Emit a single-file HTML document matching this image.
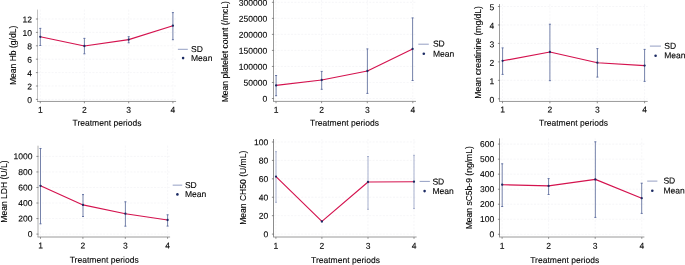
<!DOCTYPE html>
<html lang="en">
<head>
<meta charset="utf-8">
<title>Treatment period charts</title>
<style>
html,body{margin:0;padding:0;background:#fff;}
svg{display:block;}
text{font-family:"Liberation Sans", Arial, Helvetica, sans-serif;font-size:8.55px;fill:#000;stroke:#000;stroke-width:0.1px;}
.ay{stroke-width:1;fill:none;}
.axx{stroke:#9a9a9a;stroke-width:1;fill:none;}
.tk{stroke:#747474;stroke-width:0.8;fill:none;}
.gr{stroke:#f0f0f4;stroke-width:0.6;stroke-dasharray:2 1.4;fill:none;}
.sd{stroke:#7683ab;stroke-width:1;fill:none;}
.cap{stroke:#56669c;stroke-width:0.9;fill:none;}
.ll{stroke:#7886b4;stroke-width:0.8;fill:none;}
.mn{fill:#1b2a63;}
.ln{stroke:#d4124e;stroke-width:1.15;fill:none;stroke-linejoin:round;}
.lt .sd{stroke:#a9b2cf;}.lt .cap{stroke:#a0aacb;}
.r{text-anchor:end;}.m{text-anchor:middle;}
</style>
</head>
<body>
<svg width="685" height="265" viewBox="0 0 685 265">
<rect width="685" height="265" fill="#fff"/>
<g id="chart1">
<line class="gr" x1="38" y1="99.4" x2="176.1" y2="99.4"/>
<line class="gr" x1="38" y1="86" x2="176.1" y2="86"/>
<line class="gr" x1="38" y1="72.6" x2="176.1" y2="72.6"/>
<line class="gr" x1="38" y1="59.2" x2="176.1" y2="59.2"/>
<line class="gr" x1="38" y1="45.8" x2="176.1" y2="45.8"/>
<line class="gr" x1="38" y1="32.4" x2="176.1" y2="32.4"/>
<line class="gr" x1="38" y1="19" x2="176.1" y2="19"/>
<line class="gr" x1="40.3" y1="9.6" x2="40.3" y2="100.95"/>
<line class="gr" x1="84.4" y1="9.6" x2="84.4" y2="100.95"/>
<line class="gr" x1="128.7" y1="9.6" x2="128.7" y2="100.95"/>
<line class="gr" x1="172.9" y1="9.6" x2="172.9" y2="100.95"/>
<line class="ay" stroke="#c2c2c2" x1="37.5" y1="9.6" x2="37.5" y2="101.45"/><line class="axx" x1="37" y1="101.45" x2="176.1" y2="101.45"/>
<line class="tk" x1="35.9" y1="99.4" x2="37.9" y2="99.4"/><text class="r" transform="translate(32 102.95) rotate(0.05)">0</text>
<line class="tk" x1="35.9" y1="86" x2="37.9" y2="86"/><text class="r" transform="translate(32 89.55) rotate(0.05)">2</text>
<line class="tk" x1="35.9" y1="72.6" x2="37.9" y2="72.6"/><text class="r" transform="translate(32 76.15) rotate(0.05)">4</text>
<line class="tk" x1="35.9" y1="59.2" x2="37.9" y2="59.2"/><text class="r" transform="translate(32 62.75) rotate(0.05)">6</text>
<line class="tk" x1="35.9" y1="45.8" x2="37.9" y2="45.8"/><text class="r" transform="translate(32 49.35) rotate(0.05)">8</text>
<line class="tk" x1="35.9" y1="32.4" x2="37.9" y2="32.4"/><text class="r" transform="translate(32 35.95) rotate(0.05)">10</text>
<line class="tk" x1="35.9" y1="19" x2="37.9" y2="19"/><text class="r" transform="translate(32 22.55) rotate(0.05)">12</text>
<line class="tk" x1="40.3" y1="101.45" x2="40.3" y2="103.25"/><text class="m" transform="translate(40.3 112.7) rotate(0.05)">1</text>
<line class="tk" x1="84.4" y1="101.45" x2="84.4" y2="103.25"/><text class="m" transform="translate(84.4 112.7) rotate(0.05)">2</text>
<line class="tk" x1="128.7" y1="101.45" x2="128.7" y2="103.25"/><text class="m" transform="translate(128.7 112.7) rotate(0.05)">3</text>
<line class="tk" x1="172.9" y1="101.45" x2="172.9" y2="103.25"/><text class="m" transform="translate(172.9 112.7) rotate(0.05)">4</text>
<text class="m" transform="translate(15.9 55.4) rotate(-90)">Mean Hb (g/dL)</text>
<text class="m" transform="translate(107 125.85) rotate(0.05)">Treatment periods</text>
<line class="sd" x1="40.3" y1="28.4" x2="40.3" y2="45.5"/><path class="cap" d="M39.3 28.4H41.3M39.3 45.5H41.3"/>
<line class="sd" x1="84.4" y1="38.4" x2="84.4" y2="53.8"/><path class="cap" d="M83.4 38.4H85.4M83.4 53.8H85.4"/>
<line class="sd" x1="128.7" y1="36.7" x2="128.7" y2="42.8"/><path class="cap" d="M127.7 36.7H129.7M127.7 42.8H129.7"/>
<line class="sd" x1="172.9" y1="12.6" x2="172.9" y2="39.7"/><path class="cap" d="M171.9 12.6H173.9M171.9 39.7H173.9"/>
<path class="ln" d="M40.3 36.8L84.4 46L128.7 39.6L172.9 25.7"/>
<circle class="mn" cx="40.3" cy="36.8" r="1.15"/><circle class="mn" cx="84.4" cy="46" r="1.15"/><circle class="mn" cx="128.7" cy="39.6" r="1.15"/><circle class="mn" cx="172.9" cy="25.7" r="1.15"/>
<line class="ll" x1="177.9" y1="49.3" x2="187.8" y2="49.3"/><text transform="translate(191 51.9) rotate(0.05)">SD</text><circle class="mn" cx="183.1" cy="58.1" r="1.3"/><text transform="translate(191 60.9) rotate(0.05)">Mean</text>
</g>
<g id="chart2">
<line class="gr" x1="274" y1="98.5" x2="416" y2="98.5"/>
<line class="gr" x1="274" y1="82.47" x2="416" y2="82.47"/>
<line class="gr" x1="274" y1="66.44" x2="416" y2="66.44"/>
<line class="gr" x1="274" y1="50.41" x2="416" y2="50.41"/>
<line class="gr" x1="274" y1="34.38" x2="416" y2="34.38"/>
<line class="gr" x1="274" y1="18.35" x2="416" y2="18.35"/>
<line class="gr" x1="274" y1="2.32" x2="416" y2="2.32"/>
<line class="gr" x1="276" y1="0" x2="276" y2="100.9"/>
<line class="gr" x1="321.6" y1="0" x2="321.6" y2="100.9"/>
<line class="gr" x1="367.3" y1="0" x2="367.3" y2="100.9"/>
<line class="gr" x1="412.8" y1="0" x2="412.8" y2="100.9"/>
<line class="ay" stroke="#9a9a9a" x1="273.5" y1="-1" x2="273.5" y2="101.4"/><line class="axx" x1="273" y1="101.4" x2="416" y2="101.4"/>
<line class="tk" x1="271.9" y1="98.5" x2="273.9" y2="98.5"/><text class="r" transform="translate(267.3 101.85) rotate(0.05)">0</text>
<line class="tk" x1="271.9" y1="82.47" x2="273.9" y2="82.47"/><text class="r" transform="translate(267.3 85.82) rotate(0.05)">50000</text>
<line class="tk" x1="271.9" y1="66.44" x2="273.9" y2="66.44"/><text class="r" transform="translate(267.3 69.79) rotate(0.05)">100000</text>
<line class="tk" x1="271.9" y1="50.41" x2="273.9" y2="50.41"/><text class="r" transform="translate(267.3 53.76) rotate(0.05)">150000</text>
<line class="tk" x1="271.9" y1="34.38" x2="273.9" y2="34.38"/><text class="r" transform="translate(267.3 37.73) rotate(0.05)">200000</text>
<line class="tk" x1="271.9" y1="18.35" x2="273.9" y2="18.35"/><text class="r" transform="translate(267.3 21.7) rotate(0.05)">250000</text>
<line class="tk" x1="271.9" y1="2.32" x2="273.9" y2="2.32"/><text class="r" transform="translate(267.3 5.67) rotate(0.05)">300000</text>
<line class="tk" x1="276" y1="101.4" x2="276" y2="103.2"/><text class="m" transform="translate(276 112.7) rotate(0.05)">1</text>
<line class="tk" x1="321.6" y1="101.4" x2="321.6" y2="103.2"/><text class="m" transform="translate(321.6 112.7) rotate(0.05)">2</text>
<line class="tk" x1="367.3" y1="101.4" x2="367.3" y2="103.2"/><text class="m" transform="translate(367.3 112.7) rotate(0.05)">3</text>
<line class="tk" x1="412.8" y1="101.4" x2="412.8" y2="103.2"/><text class="m" transform="translate(412.8 112.7) rotate(0.05)">4</text>
<text class="m" transform="translate(228 51.7) rotate(-90)">Mean platelet count (/mcL)</text>
<text class="m" transform="translate(344.5 125.8) rotate(0.05)">Treatment periods</text>
<line class="sd" x1="276.1" y1="75.5" x2="276.1" y2="95.7"/><path class="cap" d="M275.1 75.5H277.1M275.1 95.7H277.1"/>
<line class="sd" x1="321.7" y1="71.4" x2="321.7" y2="89.3"/><path class="cap" d="M320.7 71.4H322.7M320.7 89.3H322.7"/>
<line class="sd" x1="367.4" y1="48.9" x2="367.4" y2="93.4"/><path class="cap" d="M366.4 48.9H368.4M366.4 93.4H368.4"/>
<line class="sd" x1="412.6" y1="17.9" x2="412.6" y2="80.5"/><path class="cap" d="M411.6 17.9H413.6M411.6 80.5H413.6"/>
<path class="ln" d="M276.1 85.4L321.7 80L367.4 71L412.6 48.9"/>
<circle class="mn" cx="276.1" cy="85.4" r="1.15"/><circle class="mn" cx="321.7" cy="80" r="1.15"/><circle class="mn" cx="367.4" cy="71" r="1.15"/><circle class="mn" cx="412.6" cy="48.9" r="1.15"/>
<line class="ll" x1="418.3" y1="44.2" x2="428.8" y2="44.2"/><text transform="translate(432.9 46.6) rotate(0.05)">SD</text><circle class="mn" cx="423.8" cy="53.7" r="1.3"/><text transform="translate(432.9 56.8) rotate(0.05)">Mean</text>
</g>
<g id="chart3">
<line class="gr" x1="500" y1="98.8" x2="647.7" y2="98.8"/>
<line class="gr" x1="500" y1="80.34" x2="647.7" y2="80.34"/>
<line class="gr" x1="500" y1="61.88" x2="647.7" y2="61.88"/>
<line class="gr" x1="500" y1="43.42" x2="647.7" y2="43.42"/>
<line class="gr" x1="500" y1="24.96" x2="647.7" y2="24.96"/>
<line class="gr" x1="500" y1="6.5" x2="647.7" y2="6.5"/>
<line class="gr" x1="502.5" y1="4" x2="502.5" y2="100.95"/>
<line class="gr" x1="549.9" y1="4" x2="549.9" y2="100.95"/>
<line class="gr" x1="597.3" y1="4" x2="597.3" y2="100.95"/>
<line class="gr" x1="644.6" y1="4" x2="644.6" y2="100.95"/>
<line class="ay" stroke="#9a9a9a" x1="499.5" y1="4" x2="499.5" y2="101.45"/><line class="axx" x1="499" y1="101.45" x2="647.7" y2="101.45"/>
<line class="tk" x1="497.9" y1="98.8" x2="499.9" y2="98.8"/><text class="r" transform="translate(494.3 102.65) rotate(0.05)">0</text>
<line class="tk" x1="497.9" y1="80.34" x2="499.9" y2="80.34"/><text class="r" transform="translate(494.3 84.19) rotate(0.05)">1</text>
<line class="tk" x1="497.9" y1="61.88" x2="499.9" y2="61.88"/><text class="r" transform="translate(494.3 65.73) rotate(0.05)">2</text>
<line class="tk" x1="497.9" y1="43.42" x2="499.9" y2="43.42"/><text class="r" transform="translate(494.3 47.27) rotate(0.05)">3</text>
<line class="tk" x1="497.9" y1="24.96" x2="499.9" y2="24.96"/><text class="r" transform="translate(494.3 28.81) rotate(0.05)">4</text>
<line class="tk" x1="497.9" y1="6.5" x2="499.9" y2="6.5"/><text class="r" transform="translate(494.3 10.35) rotate(0.05)">5</text>
<line class="tk" x1="502.5" y1="101.45" x2="502.5" y2="103.25"/><text class="m" transform="translate(502.5 112.6) rotate(0.05)">1</text>
<line class="tk" x1="549.9" y1="101.45" x2="549.9" y2="103.25"/><text class="m" transform="translate(549.9 112.6) rotate(0.05)">2</text>
<line class="tk" x1="597.3" y1="101.45" x2="597.3" y2="103.25"/><text class="m" transform="translate(597.3 112.6) rotate(0.05)">3</text>
<line class="tk" x1="644.6" y1="101.45" x2="644.6" y2="103.25"/><text class="m" transform="translate(644.6 112.6) rotate(0.05)">4</text>
<text class="m" transform="translate(481 52.4) rotate(-90)">Mean creatinine (mg/dL)</text>
<text class="m" transform="translate(573.5 125.8) rotate(0.05)">Treatment periods</text>
<line class="sd" x1="502.6" y1="47.9" x2="502.6" y2="74.4"/><path class="cap" d="M501.6 47.9H503.6M501.6 74.4H503.6"/>
<line class="sd" x1="549.9" y1="24.2" x2="549.9" y2="80.7"/><path class="cap" d="M548.9 24.2H550.9M548.9 80.7H550.9"/>
<line class="sd" x1="597.4" y1="48.6" x2="597.4" y2="77.1"/><path class="cap" d="M596.4 48.6H598.4M596.4 77.1H598.4"/>
<line class="sd" x1="644.6" y1="49.4" x2="644.6" y2="81.4"/><path class="cap" d="M643.6 49.4H645.6M643.6 81.4H645.6"/>
<path class="ln" d="M502.6 60.8L549.9 52L597.4 62.7L644.6 65.6"/>
<circle class="mn" cx="502.6" cy="60.8" r="1.15"/><circle class="mn" cx="549.9" cy="52" r="1.15"/><circle class="mn" cx="597.4" cy="62.7" r="1.15"/><circle class="mn" cx="644.6" cy="65.6" r="1.15"/>
<line class="ll" x1="649.9" y1="46.1" x2="660.9" y2="46.1"/><text transform="translate(664.2 48.8) rotate(0.05)">SD</text><circle class="mn" cx="655.6" cy="55.8" r="1.3"/><text transform="translate(664.2 58.3) rotate(0.05)">Mean</text>
</g>
<g id="chart4">
<line class="gr" x1="38.5" y1="234.1" x2="170.1" y2="234.1"/>
<line class="gr" x1="38.5" y1="218.56" x2="170.1" y2="218.56"/>
<line class="gr" x1="38.5" y1="203.02" x2="170.1" y2="203.02"/>
<line class="gr" x1="38.5" y1="187.48" x2="170.1" y2="187.48"/>
<line class="gr" x1="38.5" y1="171.94" x2="170.1" y2="171.94"/>
<line class="gr" x1="38.5" y1="156.4" x2="170.1" y2="156.4"/>
<line class="gr" x1="40.5" y1="145.7" x2="40.5" y2="236.5"/>
<line class="gr" x1="82.9" y1="145.7" x2="82.9" y2="236.5"/>
<line class="gr" x1="125.3" y1="145.7" x2="125.3" y2="236.5"/>
<line class="gr" x1="167.6" y1="145.7" x2="167.6" y2="236.5"/>
<line class="ay" stroke="#b0b0b0" x1="38" y1="145.7" x2="38" y2="237"/><line class="axx" x1="37.5" y1="237" x2="170.1" y2="237"/>
<line class="tk" x1="36.4" y1="234.1" x2="38.4" y2="234.1"/><text class="r" transform="translate(32.5 237.05) rotate(0.05)">0</text>
<line class="tk" x1="36.4" y1="218.56" x2="38.4" y2="218.56"/><text class="r" transform="translate(32.5 221.51) rotate(0.05)">200</text>
<line class="tk" x1="36.4" y1="203.02" x2="38.4" y2="203.02"/><text class="r" transform="translate(32.5 205.97) rotate(0.05)">400</text>
<line class="tk" x1="36.4" y1="187.48" x2="38.4" y2="187.48"/><text class="r" transform="translate(32.5 190.43) rotate(0.05)">600</text>
<line class="tk" x1="36.4" y1="171.94" x2="38.4" y2="171.94"/><text class="r" transform="translate(32.5 174.89) rotate(0.05)">800</text>
<line class="tk" x1="36.4" y1="156.4" x2="38.4" y2="156.4"/><text class="r" transform="translate(32.5 159.35) rotate(0.05)">1000</text>
<line class="tk" x1="40.5" y1="237" x2="40.5" y2="238.8"/><text class="m" transform="translate(40.5 248.6) rotate(0.05)">1</text>
<line class="tk" x1="82.9" y1="237" x2="82.9" y2="238.8"/><text class="m" transform="translate(82.9 248.6) rotate(0.05)">2</text>
<line class="tk" x1="125.3" y1="237" x2="125.3" y2="238.8"/><text class="m" transform="translate(125.3 248.6) rotate(0.05)">3</text>
<line class="tk" x1="167.6" y1="237" x2="167.6" y2="238.8"/><text class="m" transform="translate(167.6 248.6) rotate(0.05)">4</text>
<text class="m" transform="translate(7.4 191.6) rotate(-90)">Mean LDH (U/L)</text>
<text class="m" transform="translate(104.2 262.8) rotate(0.05)">Treatment periods</text>
<line class="sd" x1="40.5" y1="148.5" x2="40.5" y2="223.8"/><path class="cap" d="M39.5 148.5H41.5M39.5 223.8H41.5"/>
<line class="sd" x1="83" y1="194.6" x2="83" y2="216.5"/><path class="cap" d="M82 194.6H84M82 216.5H84"/>
<line class="sd" x1="125.4" y1="201.8" x2="125.4" y2="226.2"/><path class="cap" d="M124.4 201.8H126.4M124.4 226.2H126.4"/>
<line class="sd" x1="167.6" y1="214.8" x2="167.6" y2="226.1"/><path class="cap" d="M166.6 214.8H168.6M166.6 226.1H168.6"/>
<path class="ln" d="M40.5 185.8L83 204.9L125.4 213.7L167.6 220"/>
<circle class="mn" cx="40.5" cy="185.8" r="1.15"/><circle class="mn" cx="83" cy="204.9" r="1.15"/><circle class="mn" cx="125.4" cy="213.7" r="1.15"/><circle class="mn" cx="167.6" cy="220" r="1.15"/>
<line class="ll" x1="172.7" y1="185.15" x2="182.2" y2="185.15"/><text transform="translate(184.9 187.9) rotate(0.05)">SD</text><circle class="mn" cx="177.4" cy="194.4" r="1.3"/><text transform="translate(184.9 196.9) rotate(0.05)">Mean</text>
</g>
<g id="chart5" class="lt">
<line class="gr" x1="274" y1="234.1" x2="416.6" y2="234.1"/>
<line class="gr" x1="274" y1="215.68" x2="416.6" y2="215.68"/>
<line class="gr" x1="274" y1="197.26" x2="416.6" y2="197.26"/>
<line class="gr" x1="274" y1="178.84" x2="416.6" y2="178.84"/>
<line class="gr" x1="274" y1="160.42" x2="416.6" y2="160.42"/>
<line class="gr" x1="274" y1="142" x2="416.6" y2="142"/>
<line class="gr" x1="275.9" y1="139" x2="275.9" y2="236.5"/>
<line class="gr" x1="321.9" y1="139" x2="321.9" y2="236.5"/>
<line class="gr" x1="368" y1="139" x2="368" y2="236.5"/>
<line class="gr" x1="414" y1="139" x2="414" y2="236.5"/>
<line class="ay" stroke="#8c8c8c" x1="273.5" y1="139" x2="273.5" y2="237"/><line class="axx" x1="273" y1="237" x2="416.6" y2="237"/>
<line class="tk" x1="271.9" y1="234.1" x2="273.9" y2="234.1"/><text class="r" transform="translate(268.3 237.25) rotate(0.05)">0</text>
<line class="tk" x1="271.9" y1="215.68" x2="273.9" y2="215.68"/><text class="r" transform="translate(268.3 218.83) rotate(0.05)">20</text>
<line class="tk" x1="271.9" y1="197.26" x2="273.9" y2="197.26"/><text class="r" transform="translate(268.3 200.41) rotate(0.05)">40</text>
<line class="tk" x1="271.9" y1="178.84" x2="273.9" y2="178.84"/><text class="r" transform="translate(268.3 181.99) rotate(0.05)">60</text>
<line class="tk" x1="271.9" y1="160.42" x2="273.9" y2="160.42"/><text class="r" transform="translate(268.3 163.57) rotate(0.05)">80</text>
<line class="tk" x1="271.9" y1="142" x2="273.9" y2="142"/><text class="r" transform="translate(268.3 145.15) rotate(0.05)">100</text>
<line class="tk" x1="275.9" y1="237" x2="275.9" y2="238.8"/><text class="m" transform="translate(275.9 248.8) rotate(0.05)">1</text>
<line class="tk" x1="321.9" y1="237" x2="321.9" y2="238.8"/><text class="m" transform="translate(321.9 248.8) rotate(0.05)">2</text>
<line class="tk" x1="368" y1="237" x2="368" y2="238.8"/><text class="m" transform="translate(368 248.8) rotate(0.05)">3</text>
<line class="tk" x1="414" y1="237" x2="414" y2="238.8"/><text class="m" transform="translate(414 248.8) rotate(0.05)">4</text>
<text class="m" transform="translate(245.6 187.8) rotate(-90)">Mean CH50 (U/mL)</text>
<text class="m" transform="translate(345.5 263.05) rotate(0.05)">Treatment periods</text>
<line class="sd" x1="276" y1="151.7" x2="276" y2="202.3"/><path class="cap" d="M275 151.7H277M275 202.3H277"/>
<line class="sd" x1="321.9" y1="221.2" x2="321.9" y2="222.2"/><path class="cap" d="M320.9 221.2H322.9M320.9 222.2H322.9"/>
<line class="sd" x1="368" y1="156.5" x2="368" y2="209.3"/><path class="cap" d="M367 156.5H369M367 209.3H369"/>
<line class="sd" x1="414" y1="155.3" x2="414" y2="208.6"/><path class="cap" d="M413 155.3H415M413 208.6H415"/>
<path class="ln" d="M276 176.6L321.9 221.4L368 182L414 181.7"/>
<circle class="mn" cx="276" cy="176.6" r="1.15"/><circle class="mn" cx="321.9" cy="221.4" r="1.15"/><circle class="mn" cx="368" cy="182" r="1.15"/><circle class="mn" cx="414" cy="181.7" r="1.15"/>
<line class="ll" x1="419.6" y1="181.4" x2="429.9" y2="181.4"/><text transform="translate(432.4 184.4) rotate(0.05)">SD</text><circle class="mn" cx="424.6" cy="191.1" r="1.3"/><text transform="translate(432.4 193.9) rotate(0.05)">Mean</text>
</g>
<g id="chart6">
<line class="gr" x1="500" y1="234.3" x2="644.4" y2="234.3"/>
<line class="gr" x1="500" y1="219.27" x2="644.4" y2="219.27"/>
<line class="gr" x1="500" y1="204.24" x2="644.4" y2="204.24"/>
<line class="gr" x1="500" y1="189.21" x2="644.4" y2="189.21"/>
<line class="gr" x1="500" y1="174.18" x2="644.4" y2="174.18"/>
<line class="gr" x1="500" y1="159.15" x2="644.4" y2="159.15"/>
<line class="gr" x1="500" y1="144.12" x2="644.4" y2="144.12"/>
<line class="gr" x1="502.1" y1="138.4" x2="502.1" y2="236.5"/>
<line class="gr" x1="548.6" y1="138.4" x2="548.6" y2="236.5"/>
<line class="gr" x1="595.2" y1="138.4" x2="595.2" y2="236.5"/>
<line class="gr" x1="641.8" y1="138.4" x2="641.8" y2="236.5"/>
<line class="ay" stroke="#8c8c8c" x1="499.5" y1="138.4" x2="499.5" y2="237"/><line class="axx" x1="499" y1="237" x2="644.4" y2="237"/>
<line class="tk" x1="497.9" y1="234.3" x2="499.9" y2="234.3"/><text class="r" transform="translate(494.2 237.15) rotate(0.05)">0</text>
<line class="tk" x1="497.9" y1="219.27" x2="499.9" y2="219.27"/><text class="r" transform="translate(494.2 222.12) rotate(0.05)">100</text>
<line class="tk" x1="497.9" y1="204.24" x2="499.9" y2="204.24"/><text class="r" transform="translate(494.2 207.09) rotate(0.05)">200</text>
<line class="tk" x1="497.9" y1="189.21" x2="499.9" y2="189.21"/><text class="r" transform="translate(494.2 192.06) rotate(0.05)">300</text>
<line class="tk" x1="497.9" y1="174.18" x2="499.9" y2="174.18"/><text class="r" transform="translate(494.2 177.03) rotate(0.05)">400</text>
<line class="tk" x1="497.9" y1="159.15" x2="499.9" y2="159.15"/><text class="r" transform="translate(494.2 162) rotate(0.05)">500</text>
<line class="tk" x1="497.9" y1="144.12" x2="499.9" y2="144.12"/><text class="r" transform="translate(494.2 146.97) rotate(0.05)">600</text>
<line class="tk" x1="502.1" y1="237" x2="502.1" y2="238.8"/><text class="m" transform="translate(502.1 248.7) rotate(0.05)">1</text>
<line class="tk" x1="548.6" y1="237" x2="548.6" y2="238.8"/><text class="m" transform="translate(548.6 248.7) rotate(0.05)">2</text>
<line class="tk" x1="595.2" y1="237" x2="595.2" y2="238.8"/><text class="m" transform="translate(595.2 248.7) rotate(0.05)">3</text>
<line class="tk" x1="641.8" y1="237" x2="641.8" y2="238.8"/><text class="m" transform="translate(641.8 248.7) rotate(0.05)">4</text>
<text class="m" transform="translate(471.9 187.8) rotate(-90)">Mean sC5b-9 (ng/mL)</text>
<text class="m" transform="translate(564.7 263.05) rotate(0.05)">Treatment periods</text>
<line class="sd" x1="502.2" y1="163.8" x2="502.2" y2="206.5"/><path class="cap" d="M501.2 163.8H503.2M501.2 206.5H503.2"/>
<line class="sd" x1="548.6" y1="178.6" x2="548.6" y2="194.5"/><path class="cap" d="M547.6 178.6H549.6M547.6 194.5H549.6"/>
<line class="sd" x1="595.35" y1="141.8" x2="595.35" y2="217.4"/><path class="cap" d="M594.35 141.8H596.35M594.35 217.4H596.35"/>
<line class="sd" x1="641.7" y1="183.2" x2="641.7" y2="213.4"/><path class="cap" d="M640.7 183.2H642.7M640.7 213.4H642.7"/>
<path class="ln" d="M502.2 184.7L548.6 185.9L595.35 179.4L641.7 198.2"/>
<circle class="mn" cx="502.2" cy="184.7" r="1.15"/><circle class="mn" cx="548.6" cy="185.9" r="1.15"/><circle class="mn" cx="595.35" cy="179.4" r="1.15"/><circle class="mn" cx="641.7" cy="198.2" r="1.15"/>
<line class="ll" x1="647.2" y1="181.1" x2="657.4" y2="181.1"/><text transform="translate(663.4 183.4) rotate(0.05)">SD</text><circle class="mn" cx="652.3" cy="190.8" r="1.3"/><text transform="translate(663.4 193.4) rotate(0.05)">Mean</text>
</g>
</svg>
</body>
</html>
